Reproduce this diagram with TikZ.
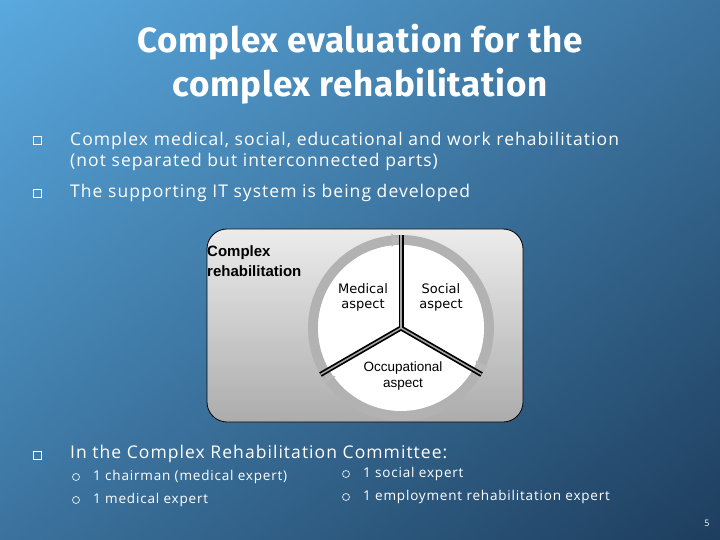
\documentclass[tikz,border=0pt]{standalone}
\usepackage{fontspec}
\setmainfont{Open Sans}[LetterSpace=6]
\newfontfamily\titlefont{Fira Sans}[LetterSpace=2]
\newfontfamily\arialf{Liberation Sans}
\newfontfamily\dejav{DejaVu Sans}
\usetikzlibrary{arrows.meta}
\definecolor{bgA}{HTML}{5AA9DF}
\definecolor{bgB}{HTML}{1E3E5E}
\tikzset{
  body/.style={anchor=west,text=white,font=\fontsize{17.5}{21}\selectfont,inner sep=0pt,align=left},
  small/.style={anchor=west,text=white,font=\fontsize{13.5}{15}\selectfont,inner sep=0pt},
  bul/.style={draw=white,line width=0.6pt,minimum size=8pt,inner sep=0pt},
  cbul/.style={circle,draw=white,line width=0.6pt,minimum size=7pt,inner sep=0pt},
  spoke/.style={line width=5pt,black},
  spokeg/.style={line width=1.5pt,gray!70},
  lab/.style={font=\dejav\fontsize{13}{15}\selectfont,align=center,inner sep=0pt}
}
\begin{document}
\begin{tikzpicture}[x=1pt,y=-1pt]
\path[use as bounding box, left color=bgA, right color=bgB] (0,0) rectangle (720,540);
\shade[top color=bgA, bottom color=bgB, opacity=0.5] (0,0) rectangle (720,540);
\node[text=white,font=\titlefont\bfseries\fontsize{35}{44}\selectfont,align=center] (title) at (360,64) {Complex evaluation for the\\complex rehabilitation};
\node[bul] (b1) at (37,140) {};
\node[bul] (b2) at (37,193) {};
\node[body] (t1) at (70,151) {Complex medical, social, educational and work rehabilitation\\(not separated but interconnected parts)};
\node[body] (t2) at (70,193) {The supporting IT system is being developed};
% diagram box
\shade[top color=gray!15, bottom color=gray!65, draw=black, line width=0.8pt, rounded corners=20pt] (207,229) rectangle (523,422);
\node[anchor=north west,font=\arialf\bfseries\fontsize{15}{20}\selectfont,align=left,inner sep=0pt] (cr) at (207,245) {Complex\\rehabilitation};
\coordinate (c) at (401,328);
\draw[line width=10pt, gray!60] (c) circle (88);
\fill[white] (c) circle (83);
\draw[-{Triangle[length=8pt,width=14pt]}, gray!55, line width=0pt] ([shift={(-95:88)}]c) arc (-95:-91:88);
\draw[-{Triangle[length=8pt,width=14pt]}, gray!55, line width=0pt] ([shift={(25:88)}]c) arc (25:29:88);
\draw[-{Triangle[length=8pt,width=14pt]}, gray!55, line width=0pt] ([shift={(145:88)}]c) arc (145:149:88);
\coordinate (p1) at ([shift={(-90:93)}]c);
\coordinate (p2) at ([shift={(30:93)}]c);
\coordinate (p3) at ([shift={(150:93)}]c);
\foreach \p in {p1,p2,p3}{\draw[spoke] (c) -- (\p);}
\foreach \p in {p1,p2,p3}{\draw[spokeg] (c) -- (\p);}
\node[lab] (med) at (363,297) {Medical\\aspect};
\node[lab] (soc) at (441,297) {Social\\aspect};
\node[lab,font=\arialf\fontsize{13.5}{15.5}\selectfont] (occ) at (403,376) {Occupational\\aspect};
% committee
\node[bul] (b3) at (37,455) {};
\node[body] (t3) at (70,454) {In the Complex Rehabilitation Committee:};
\node[cbul] (c1) at (76,477) {};
\node[small] (s1) at (93,477) {1 chairman (medical expert)};
\node[cbul] (c2) at (76,500) {};
\node[small] (s2) at (93,500) {1 medical expert};
\node[cbul] (c3) at (346,474) {};
\node[small] (s3) at (363,474) {1 social expert};
\node[cbul] (c4) at (346,497) {};
\node[small] (s4) at (363,497) {1 employment rehabilitation expert};
\node[text=white,font=\fontsize{9}{10}\selectfont] (pg) at (707,523) {5};
\end{tikzpicture}
\end{document}
